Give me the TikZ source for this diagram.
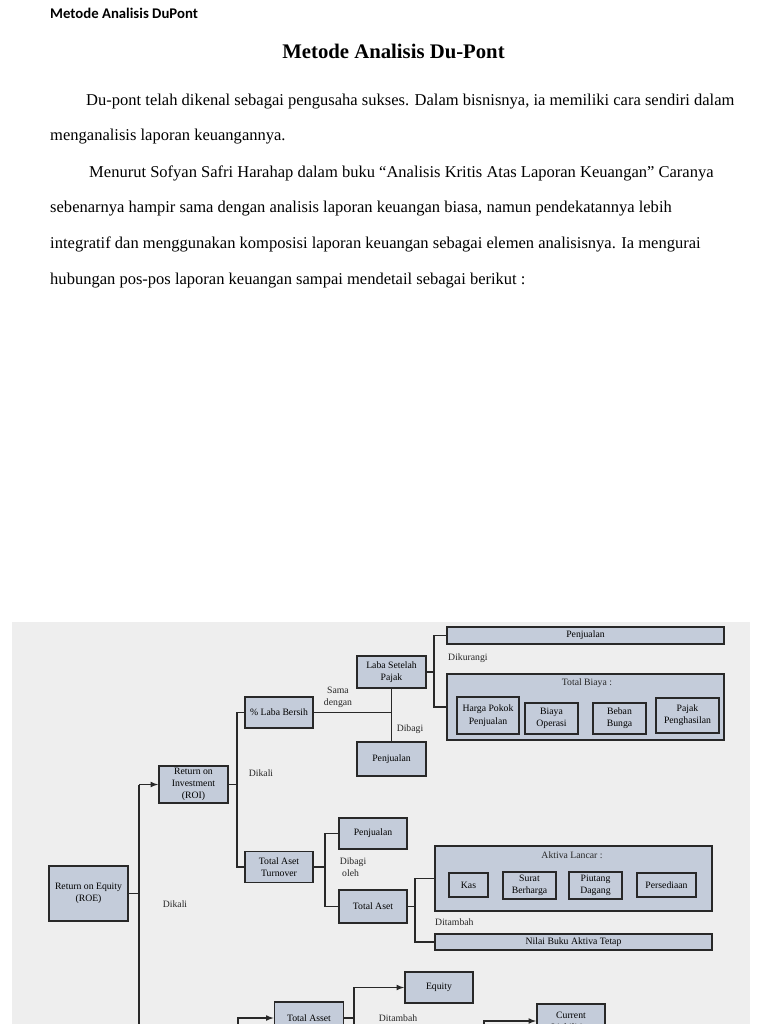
\documentclass[tikz,border=0pt]{standalone}
\usepackage{fontspec}
\setmainfont{Liberation Serif}
\newfontfamily\headfont{Carlito}
\definecolor{boxfill}{RGB}{196,204,218}
\definecolor{boxline}{RGB}{40,40,40}
\definecolor{chartbg}{RGB}{238,238,238}
\begin{document}
\begin{tikzpicture}[x=0.03cm,y=-0.03cm]
    \tikzstyle{every node}+=[inner sep=0pt]
    \tikzstyle{box}=[draw=boxline, line width=1.6pt, fill=boxfill, align=center, font=\fontsize{8.3}{10.5}\selectfont]
    \tikzstyle{lbl}=[align=left, text=black!85, font=\fontsize{8.3}{10.5}\selectfont]
    \tikzstyle{link}=[draw=boxline, line width=1.2pt]
    \tikzstyle{body}=[anchor=base west, font=\fontsize{14.1}{16}\selectfont]
    \useasboundingbox (0,0) rectangle (768,1024);
    \clip (0,0) rectangle (768,1024);
    \node [anchor=base west, font=\headfont\bfseries\fontsize{12.6}{15}\selectfont] (head) at (50,18) {Metode Analisis DuPont};
    \node [anchor=base, font=\bfseries\fontsize{17.7}{20}\selectfont] (title) at (393.5,58) {Metode Analisis Du-Pont};
    \node [body] (par1) at (86,105) {Du-pont telah dikenal sebagai pengusaha sukses. Dalam bisnisnya, ia memiliki cara sendiri dalam};
    \node [body] (par2) at (50,140) {menganalisis laporan keuangannya.};
    \node [body] (par3) at (89,177) {Menurut Sofyan Safri Harahap dalam buku “Analisis Kritis Atas Laporan Keuangan” Caranya};
    \node [body] (par4) at (50,212) {sebenarnya hampir sama dengan analisis laporan keuangan biasa, namun pendekatannya lebih};
    \node [body] (par5) at (50,248) {integratif dan menggunakan komposisi laporan keuangan sebagai elemen analisisnya. Ia mengurai};
    \node [body] (par6) at (50,284) {hubungan pos-pos laporan keuangan sampai mendetail sebagai berikut :};
    \fill [chartbg] (12,622) rectangle (750,1030);
    \node [box, minimum width=2.37cm, minimum height=1.65cm] (roe) at (88.5,893.5) {Return on Equity\\(ROE)};
    \node [box, minimum width=2.07cm, minimum height=1.11cm] (roi) at (193.5,784.5) {Return on\\Investment\\(ROI)};
    \node [box, minimum width=2.04cm, minimum height=0.93cm] (lb) at (279,712.5) {\% Laba Bersih};
    \node [box, minimum width=2.04cm, minimum height=0.93cm] (tat) at (279,867) {Total Aset\\Turnover};
    \node [box, minimum width=2.07cm, minimum height=0.96cm] (lsp) at (391.5,672) {Laba Setelah\\Pajak};
    \node [box, minimum width=2.07cm, minimum height=1.02cm] (pj1) at (391.5,759) {Penjualan};
    \node [box, minimum width=8.31cm, minimum height=0.51cm] (pjbar) at (585.5,635.5) {Penjualan};
    \node [box, minimum width=8.31cm, minimum height=1.98cm] (tb) at (585.5,707) {};
    \node [lbl] (tbtext) at (587,683) {Total Biaya :};
    \node [box, minimum width=1.86cm, minimum height=1.11cm] (hpp) at (488,715.5) {Harga Pokok\\Penjualan};
    \node [box, minimum width=1.59cm, minimum height=0.93cm] (bo) at (551.5,718.5) {Biaya\\Operasi};
    \node [box, minimum width=1.59cm, minimum height=0.93cm] (bb) at (619.5,718.5) {Beban\\Bunga};
    \node [box, minimum width=1.89cm, minimum height=1.05cm] (pph) at (687.5,715.5) {Pajak\\Penghasilan};
    \node [box, minimum width=2.04cm, minimum height=0.93cm] (pj2) at (373,833.5) {Penjualan};
    \node [box, minimum width=2.04cm, minimum height=0.99cm] (ta) at (373,906.5) {Total Aset};
    \node [box, minimum width=8.31cm, minimum height=1.95cm] (al) at (573.5,878.5) {};
    \node [lbl] (altext) at (572,855) {Aktiva Lancar :};
    \node [box, minimum width=1.17cm, minimum height=0.72cm] (kas) at (468.5,885) {Kas};
    \node [box, minimum width=1.59cm, minimum height=0.81cm] (sb) at (529.5,885.5) {Surat\\Berharga};
    \node [box, minimum width=1.59cm, minimum height=0.81cm] (pd) at (595.5,885.5) {Piutang\\Dagang};
    \node [box, minimum width=1.77cm, minimum height=0.72cm] (ps) at (666.5,885) {Persediaan};
    \node [box, minimum width=8.31cm, minimum height=0.48cm] (nbat) at (573.5,942) {Nilai Buku Aktiva Tetap};
    \node [box, minimum width=2.07cm, minimum height=0.96cm] (tas) at (309,1018) {Total Asset};
    \node [box, minimum width=2.04cm, minimum height=0.93cm] (eq) at (439,987.5) {Equity};
    \node [box, minimum width=2.04cm, minimum height=1.02cm] (cl) at (571,1021) {Current\\Liabilities};
    \node [lbl, align=center] (sama) at (338,697) {Sama\\dengan};
    \node [lbl] (dibagi) at (410,729) {Dibagi};
    \node [lbl] (dikali1) at (261,773) {Dikali};
    \node [lbl] (dikali2) at (175,904) {Dikali};
    \node [lbl, anchor=west] (dikurangi) at (448,658) {Dikurangi};
    \node [lbl] (dibagioleh) at (353,867) {Dibagi\\\ oleh};
    \node [lbl, anchor=west] (ditambah1) at (435,922) {Ditambah};
    \node [lbl] (ditambah2) at (398,1018) {Ditambah};
    \coordinate (sroe) at (139,784.5);
    \coordinate (eroe) at (139,1040);
    \coordinate (broi) at (237,784.5);
    \coordinate (blsp) at (434,672);
    \coordinate (btat) at (325,867);
    \coordinate (bta) at (415,906.5);
    \coordinate (ltas) at (238,1040);
    \coordinate (btas) at (354,1040);
    \coordinate (lcl) at (484,1040);
    \draw [link] (roe.east) -- (roe.east -| sroe);
    \draw [link] (eroe) -- (sroe);
    \draw [link, -latex] (sroe) -- (roi.west);
    \draw [link] (roi.east) -- (broi);
    \draw [link] (lb.west) -| (broi) |- (tat.west);
    \draw [link] (lsp.south) -- (pj1.north);
    \draw [link] (lb.east) -- (lb.east -| lsp.south);
    \draw [link] (lsp.east) -- (blsp);
    \draw [link] (pjbar.west) -| (blsp) |- (tb.west);
    \draw [link] (tat.east) -- (btat);
    \draw [link] (pj2.west) -| (btat) |- (ta.west);
    \draw [link] (ta.east) -- (bta);
    \draw [link] (al.west) -| (bta) |- (nbat.west);
    \draw [link, -latex] (ltas) |- (tas.west);
    \draw [link] (tas.east) -- (tas.east -| btas);
    \draw [link, -latex] (btas) |- (eq.west);
    \draw [link, -latex] (lcl) |- (cl.west);
\end{tikzpicture}
\end{document}
